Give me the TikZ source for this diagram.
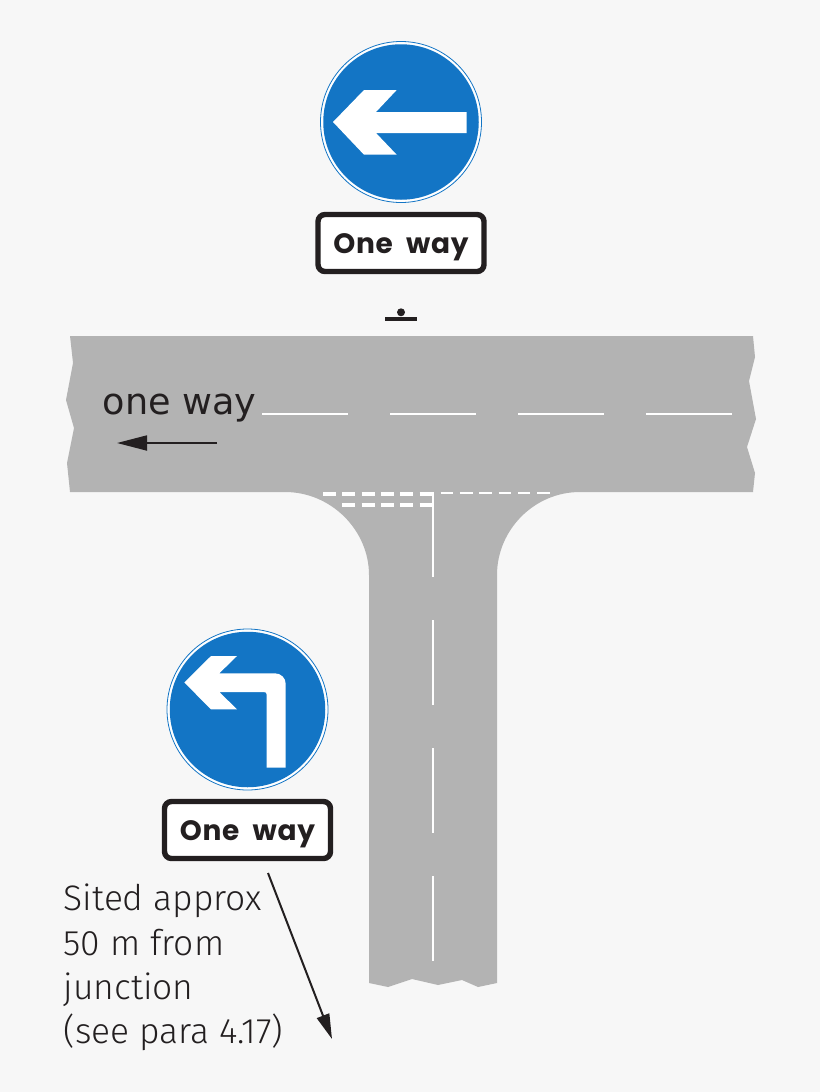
\documentclass[tikz,border=0pt]{standalone}
\usepackage{fontspec}
\usetikzlibrary{arrows.meta,positioning}
\newfontfamily\signfont{Poppins}[LetterSpace=2.5,WordSpace=2.0]
\newfontfamily\notefont{Fira Sans Light}
\newfontfamily\roadfont{DejaVu Sans}
\definecolor{paper}{HTML}{F7F7F7}
\definecolor{road}{HTML}{B3B3B3}
\definecolor{signblue}{HTML}{1375C5}
\definecolor{ink}{HTML}{231F20}
\tikzset{
  disc/.style={circle,draw=signblue,line width=0.8pt,fill=white,minimum size=161pt,inner sep=0pt},
  discin/.style={circle,fill=signblue,minimum size=155.5pt,inner sep=0pt},
  plate/.style={draw=ink,fill=white,line width=5.4pt,rounded corners=7pt,minimum width=166pt,minimum height=57pt,inner sep=0pt,
    text height=27pt,text depth=6pt,font=\signfont\bfseries\fontsize{28}{28}\selectfont,text=ink},
  note/.style={anchor=base west,inner sep=0pt,font=\notefont\fontsize{35.4}{36}\selectfont,text=ink},
  lane/.style={white,line width=2.3pt},
  giveway/.style={white,line width=4pt},
  pointer/.style={ink,line width=2pt,-{Triangle[length=25pt,width=13pt]}}
}
\begin{document}
\begin{tikzpicture}[x=1pt,y=-1pt]
  \useasboundingbox (0,0) rectangle (820,1092);
  \fill[paper] (0,0) rectangle (820,1092);

  % road
  \fill[road] (70,336) -- (753,336) -- (755,357) -- (749,381) -- (756,419) -- (747,447) -- (755,473) -- (753,492)
    -- (580,492) .. controls (534,492) and (497,530) .. (497,575)
    -- (497,983) -- (478,987) -- (462,980) -- (438,985) -- (412,979) -- (388,987) -- (369,983)
    -- (369,575) .. controls (369,530) and (331,492) .. (285,492)
    -- (70,492) -- (67,463) -- (74,428) -- (66,400) -- (73,363) -- cycle;

  % lane markings
  \foreach \x in {262,390,518,646}
    \draw[lane] (\x,414) -- +(86,0);
  \foreach \y in {492,620,748,876}
    \draw[lane] (433,\y) -- +(0,85);
  \foreach \x in {323,342.3,361.6,380.9,400.2,419.5}
    \draw[giveway] (\x,494) -- +(13,0);
  \foreach \x in {342.3,361.6,380.9,400.2,419.5}
    \draw[giveway] (\x,505) -- +(13,0);
  \foreach \x in {440.6,459.9,479.2,498.5,517.8,537.1}
    \draw[lane] (\x,493) -- +(12.6,0);

  \path
  (401,122) node[disc](topring) {}
  (401,122) node[discin](topdisc) {}
  (401,243) node[plate](topplate) {One way}
  (247.5,709.5) node[disc](sidering) {}
  (247.5,709.5) node[discin](sidedisc) {}
  (247.5,830) node[plate](sideplate) {One way}
  (102.5,414) node[anchor=base west,inner sep=0pt,font=\roadfont\fontsize{36.6}{37}\selectfont,text=ink](roadtext) {one way}
  (63.5,910) node[note](line1) {Sited approx}
  (63.5,955) node[note](line2) {50 m from}
  (63.5,999.5) node[note](line3) {junction}
  (63.5,1043) node[note](line4) {(see para 4.17)}
  (217,443) coordinate(flowstart)
  (117,443) coordinate(flowend)
  (268,873) coordinate(siteStart)
  (332,1039) coordinate(siteEnd)
  ;

  % arrows on the signs
  \fill[white] (333,122) -- (364,90) -- (396.7,90) -- (376,112) -- (466.7,112) -- (466.7,133) -- (376,133) -- (396.7,154.7) -- (364,154.7) -- cycle;
  \fill[white] (184.3,682.5) -- (211,656) -- (237,656) -- (219.3,673.3) -- (275,673.3)
    .. controls (281,673.3) and (285.7,678) .. (285.7,684)
    -- (285.7,767.7) -- (266.7,767.7) -- (266.7,695)
    .. controls (266.7,693) and (266,692) .. (264,692)
    -- (219.3,692) -- (237,709.3) -- (211,709.3) -- cycle;

  % T mark
  \fill[ink] (401,312.3) circle (4);
  \draw[ink,line width=3.6pt] (385,318.7) -- (417,318.7);

  \draw[ink,line width=1.8pt,-{Triangle[length=30pt,width=15pt]}] (flowstart) -- (flowend);
  \draw[pointer] (siteStart) -- (siteEnd);
\end{tikzpicture}
\end{document}
